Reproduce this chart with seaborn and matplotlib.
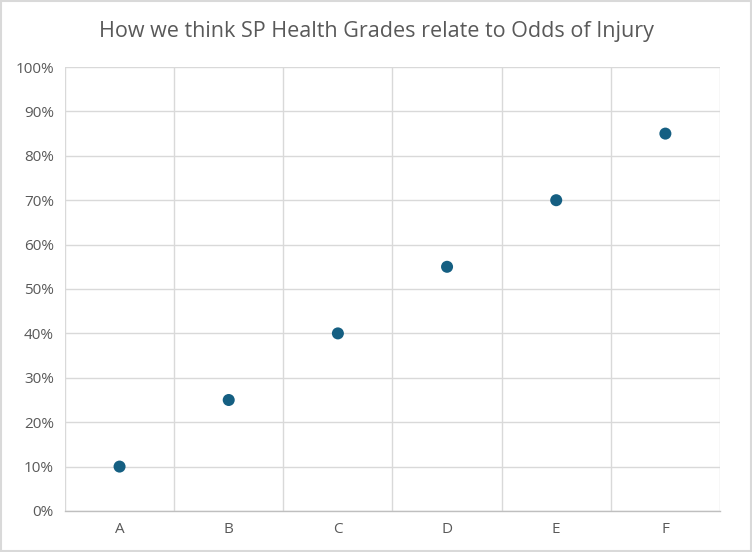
import seaborn as sns
import matplotlib.pyplot as plt
import matplotlib.ticker as mticker
import pandas as pd
import numpy as np

grades = ["A", "B", "C", "D", "E", "F"]
odds = [0.10, 0.25, 0.40, 0.55, 0.70, 0.85]

sns.set_theme(style="white")
plt.rcParams['font.family'] = ['Open Sans', 'DejaVu Sans']

df = pd.DataFrame({"grade": grades, "odds": odds})

fig = plt.figure(figsize=(7.52, 5.52), dpi=100)
ax = fig.add_axes([0.0864, 0.0743, 0.8710, 0.8043])
fig.patches.append(plt.Rectangle((0.001, 0.001), 0.998, 0.998, transform=fig.transFigure,
                                 fill=False, edgecolor="#d9d9d9", linewidth=1.5))

sns.scatterplot(data=df, x="grade", y="odds", ax=ax, color="#155f82",
                s=75, edgecolor="none", zorder=3)

ax.set_xlim(-0.5, len(grades) - 0.5)
ax.set_ylim(0, 1)
ax.yaxis.set_major_locator(mticker.MultipleLocator(0.1))
ax.yaxis.set_major_formatter(mticker.PercentFormatter(1.0, decimals=0))
ax.set_xticks(range(len(grades)))
ax.set_xticklabels(grades)
ax.xaxis.set_minor_locator(mticker.FixedLocator(np.arange(-0.5, len(grades), 1.0)))
ax.grid(True, axis="y", which="major", color="#d9d9d9", linewidth=1)
ax.grid(True, axis="x", which="minor", color="#d9d9d9", linewidth=1)
ax.grid(False, axis="x", which="major")
ax.set_axisbelow(True)
ax.tick_params(axis="both", which="both", length=0, labelsize=11, colors="#595959", pad=8)
for side in ["top", "right", "left"]:
    ax.spines[side].set_visible(False)
ax.spines["bottom"].set_color("#bfbfbf")
ax.spines["bottom"].set_linewidth(1)
ax.set_xlabel("")
ax.set_ylabel("")
fig.suptitle("How we think SP Health Grades relate to Odds of Injury", y=0.962,
             fontsize=15.5, color="#595959")

fig.savefig("out.png", dpi=100)
